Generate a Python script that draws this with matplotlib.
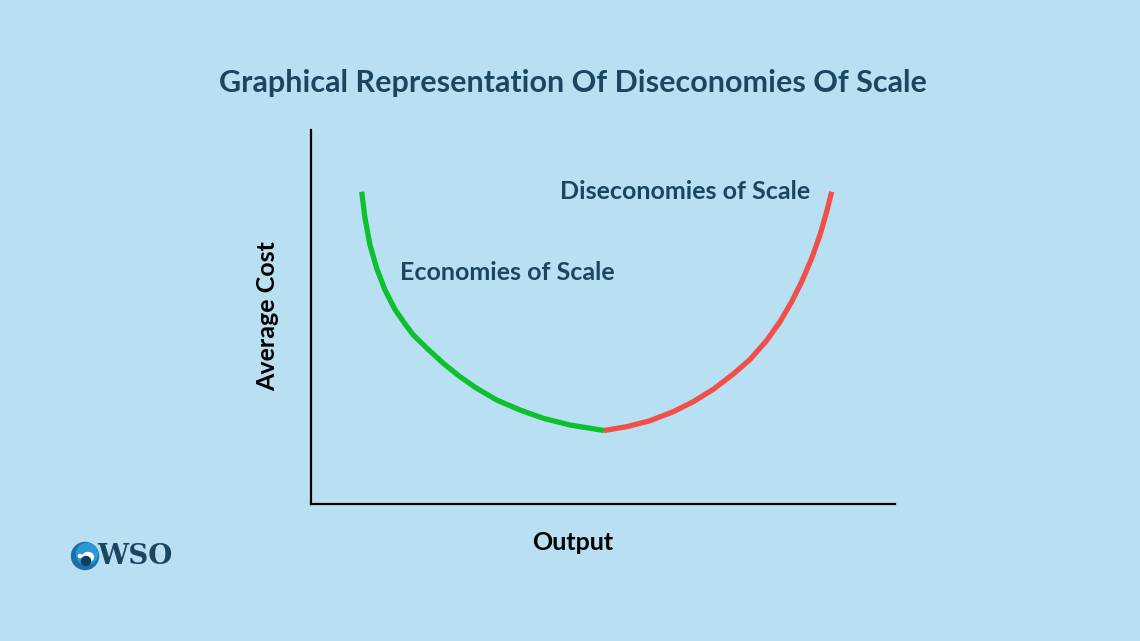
import matplotlib.pyplot as plt
from matplotlib.patches import Circle, Ellipse

# values (output 0-100, average cost 0-100)
econ_output = [8.68, 9.25, 10.10, 11.25, 12.67, 14.38, 16.10, 17.52, 19.81,
               22.65, 25.51, 28.37, 31.80, 35.79, 39.78, 44.35, 50.17]
econ_cost = [83.50, 76.39, 69.25, 63.02, 57.22, 52.01, 48.13, 45.19, 41.71,
             37.62, 34.04, 30.94, 27.81, 25.13, 22.91, 21.12, 19.65]
dis_output = [50.17, 54.06, 58.05, 62.04, 65.46, 68.89, 72.31, 75.17, 78.03,
              80.31, 82.31, 84.02, 85.74, 87.16, 88.30, 89.16]
dis_cost = [19.65, 20.67, 22.27, 24.68, 27.35, 30.67, 34.76, 38.64, 43.72,
            48.74, 54.09, 59.44, 65.70, 71.93, 78.16, 83.50]

title = "Graphical Representation Of Diseconomies Of Scale"
xlabel = "Output"
ylabel = "Average Cost"
econ_label = "Economies of Scale"
dis_label = "Diseconomies of Scale"

bg = "#b8e0f2"
navy = "#1a4661"
green = "#0cc12d"
red = "#f0504a"

W, H = 1140, 641
fig = plt.figure(figsize=(W / 100, H / 100), dpi=100, facecolor=bg)

# axes box in pixel coords of the reference
left, right, top, bottom = 311, 895, 130, 504
ax = fig.add_axes([left / W, 1 - bottom / H, (right - left) / W, (bottom - top) / H])
ax.set_facecolor(bg)
ax.set_xlim(0, 100)
ax.set_ylim(0, 100)
for s in ["top", "right"]:
    ax.spines[s].set_visible(False)
for s in ["left", "bottom"]:
    ax.spines[s].set_linewidth(1.6)
    ax.spines[s].set_color("black")
ax.set_xticks([])
ax.set_yticks([])

ax.plot(econ_output, econ_cost, color=green, lw=3.8,
        solid_capstyle="butt", solid_joinstyle="round")
ax.plot(dis_output, dis_cost, color=red, lw=3.8,
        solid_capstyle="butt", solid_joinstyle="round")

ax.text(15.2, 61.8, econ_label, fontsize=18, color=navy, family="Lato",
        weight="bold", va="center", ha="left")
ax.text(42.6, 83.6, dis_label, fontsize=18, color=navy, family="Lato",
        weight="bold", va="center", ha="left")

fig.text(573 / W, 1 - 83 / H, title, fontsize=22, color=navy, family="Lato",
         weight="bold", ha="center", va="center")
fig.text(573 / W, 1 - 542 / H, xlabel, fontsize=18, color="black", family="Lato",
         weight="bold", ha="center", va="center")
fig.text(268 / W, 1 - 316 / H, ylabel, fontsize=18, color="black", family="Lato",
         weight="bold", ha="center", va="center", rotation=90)

# WSO logo
logo = fig.add_axes([0, 0, 1, 1], facecolor="none")
logo.set_xlim(0, W)
logo.set_ylim(H, 0)
logo.axis("off")
logo.add_patch(Circle((85, 556), 13.5, color="#1c6fa8"))
logo.add_patch(Circle((87, 554), 10.5, color="#2a9ad6"))
logo.add_patch(Ellipse((88, 557), 11, 9, color="white"))
logo.add_patch(Circle((86, 561), 4.5, color="#123d5c"))
logo.add_patch(Circle((80, 556), 1.6, color="white"))
logo.text(135, 556, "WSO", fontsize=20, color=navy, family="DejaVu Serif",
          weight="bold", ha="center", va="center")

fig.savefig("out.png", dpi=100, facecolor=bg)
